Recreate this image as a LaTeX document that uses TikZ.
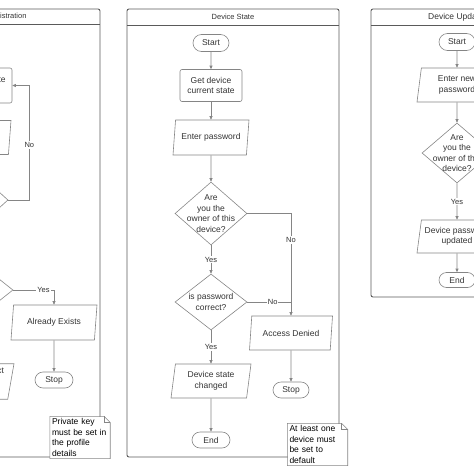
\documentclass[tikz,border=0pt]{standalone}
\usepackage{fontspec}
\setmainfont{Liberation Sans}
\usetikzlibrary{shapes.geometric,shapes.misc,arrows.meta}
\definecolor{lanecol}{HTML}{5A5A5A}
\definecolor{boxcol}{HTML}{858585}
\definecolor{inkcol}{HTML}{333333}

\begin{document}
\begin{tikzpicture}[x=1pt, y=-1pt
            , every node/.style={font=\fontsize{8.5}{10.5}\selectfont, text=inkcol},
            term/.style={rounded rectangle, draw=boxcol, line width=0.6pt, minimum width=42pt, minimum height=17pt, inner xsep=3pt, inner ysep=0pt},
            proc/.style={rectangle, rounded corners=2pt, draw=boxcol, line width=0.6pt, minimum width=62pt, minimum height=32pt, align=center},
            io/.style={trapezium, trapezium left angle=80, trapezium right angle=100, trapezium stretches body, draw=boxcol, line width=0.6pt, minimum width=78pt, minimum height=34pt, align=center, inner xsep=2pt},
            dec/.style={diamond, draw=boxcol, line width=0.6pt, minimum width=72pt, minimum height=62pt, inner sep=-14pt, align=center},
            lane/.style={draw=lanecol, line width=0.9pt, rounded corners=2pt},
            lanetitle/.style={font=\fontsize{7.5}{9}\selectfont},
            flow/.style={draw=boxcol, line width=0.6pt, -{Triangle[length=3.5pt, width=3pt]}},
            link/.style={draw=boxcol, line width=0.6pt},
            lbl/.style={fill=white, inner sep=1pt, font=\fontsize{7.5}{9}\selectfont},
            note/.style={fill=white, text width=56pt, inner sep=2pt, align=left, text=black},
            notepen/.style={draw=boxcol, line width=0.6pt}]
        \useasboundingbox (0,0) rectangle (474,474);
        \clip (0,0) rectangle (474,474);

        \draw[lane] (-112,9) rectangle (100,457);
        \draw[lane] (-112,24) -- (100,24);
        \node[lanetitle] (regtitle) at (-6,16.5) {Device Registration};
        \draw[lane] (127,9) rectangle (339,457);
        \draw[lane] (127,25) -- (339,25);
        \node[lanetitle] (sttitle) at (233,17) {Device State};
        \draw[lane] (371,9) rectangle (545,297);
        \draw[lane] (371,25) -- (545,25);
        \node[lanetitle, font=\fontsize{8.5}{10}\selectfont, anchor=west, inner sep=0pt] (uptitle) at (428,17) {Device Update};

        \node[proc, minimum width=76pt, minimum height=35pt] (regen) at (-26,85.5) {Generate private\\key};
        \node[io, minimum width=74pt] (regin) at (-26,137.5) {Enter key};
        \node[dec, minimum width=68pt] (regchk) at (-26,200) {Is the key\\valid?};
        \node[dec, minimum width=78pt] (regex) at (-26,290) {Does it\\exist?};
        \node[io, minimum width=86pt, minimum height=35pt] (regae) at (54,322.5) {Already Exists};
        \node[term, minimum width=44pt, minimum height=16pt] (regstop) at (54,380) {Stop};
        \node[io, minimum width=78pt] (reginc) at (-25,381.5) {Key is incorrect\\enter it\\again};
        \draw[flow] (regen) -- (regin);
        \draw[flow] (regin) -- (regchk);
        \draw[flow] (regchk.east) -- ++(21,0) |- node[lbl, pos=0.24] {No} (regen.east);
        \draw[flow] (regchk) -- node[lbl] {Yes} (regex);
        \draw[flow] (regex.east) -| node[lbl, pos=0.37] {Yes} (regae.north);
        \draw[flow] (regex) -- node[lbl] {No} (reginc);
        \draw[flow] (regae) -- (regstop);

        \node[term] (ststart) at (211,43) {Start};
        \node[proc] (stget) at (211,85.5) {Get device\\current state};
        \node[io, minimum width=76pt, minimum height=35pt] (stpwd) at (211,137.5) {Enter password};
        \node[dec, minimum height=63pt] (stown) at (211,213.5) {Are\\you the\\owner of this\\device?};
        \node[dec, minimum height=56pt] (stcor) at (211,302) {is password\\correct?};
        \node[io, minimum width=80pt] (stchg) at (211,381) {Device state\\changed};
        \node[term, minimum width=44pt, minimum height=16pt] (stend) at (211,440) {End};
        \node[io, minimum width=83pt] (stden) at (291,333) {Access Denied};
        \node[term, minimum width=42pt, minimum height=16pt] (ststop) at (291,390) {Stop};
        \draw[flow] (ststart) -- (stget);
        \draw[flow] (stget) -- (stpwd);
        \draw[flow] (stpwd) -- (stown);
        \draw[flow] (stown) -- node[lbl] {Yes} (stcor);
        \draw[flow] (stcor) -- node[lbl] {Yes} (stchg);
        \draw[flow] (stchg) -- (stend);
        \draw[flow] (stown.east) -| node[lbl, pos=0.63] {No} (stden.north);
        \draw[link] (stcor.east) -- node[lbl, pos=0.58] {No} (stcor.east -| stden.north);
        \draw[flow] (stden) -- (ststop);

        \node[term] (upstart) at (457,42) {Start};
        \node[io, minimum width=80pt] (upin) at (457,85) {Enter new\\password};
        \node[dec, minimum width=70pt, minimum height=60pt] (upown) at (457,153) {Are\\you the\\owner of this\\device?};
        \node[io, minimum width=80pt, minimum height=33pt] (upupd) at (457,236.5) {Device password\\updated};
        \node[term, minimum height=15pt] (upend) at (457,280) {End};
        \draw[flow] (upstart) -- (upin);
        \draw[flow] (upin) -- (upown);
        \draw[flow] (upown) -- node[lbl] {Yes} (upupd);
        \draw[flow] (upupd) -- (upend);

        \node[note] (regnote) at (80,437.5) {Private key\\must be set in\\the profile\\details};
        \draw[notepen] (regnote.north west) -- ([xshift=-6pt]regnote.north east) -- ([yshift=-6pt]regnote.north east) -- (regnote.south east) -- (regnote.south west) -- cycle;
        \draw[notepen] ([xshift=-6pt]regnote.north east) |- ([yshift=-6pt]regnote.north east);
        \node[note] (stnote) at (317.5,444.5) {At least one\\device must\\be set to\\default};
        \draw[notepen] (stnote.north west) -- ([xshift=-6pt]stnote.north east) -- ([yshift=-6pt]stnote.north east) -- (stnote.south east) -- (stnote.south west) -- cycle;
        \draw[notepen] ([xshift=-6pt]stnote.north east) |- ([yshift=-6pt]stnote.north east);
\end{tikzpicture}
\end{document}
